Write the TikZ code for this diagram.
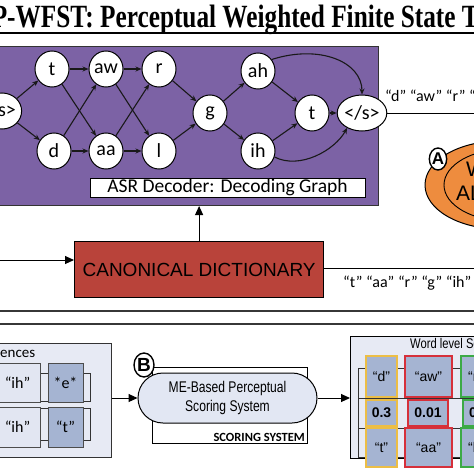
\documentclass[tikz,border=0pt]{standalone}
\usepackage{fontspec}
\usepackage{graphicx}
\setmainfont{Liberation Sans}
\newfontfamily\calfont{Carlito}
\newfontfamily\serfont{Liberation Serif}
\usetikzlibrary{arrows.meta,shapes.geometric,shapes.misc}
\definecolor{purp}{RGB}{124,98,165}
\definecolor{dictred}{RGB}{185,67,58}
\definecolor{orng}{RGB}{238,140,62}
\definecolor{panelA}{RGB}{231,234,244}
\definecolor{cellL}{RGB}{226,230,242}
\definecolor{cellD}{RGB}{165,180,210}
\definecolor{pillc}{RGB}{226,231,243}
\definecolor{ylw}{RGB}{236,190,70}
\definecolor{rd}{RGB}{214,48,58}
\definecolor{grn}{RGB}{60,170,70}
\definecolor{sepc}{RGB}{55,55,55}
\newcommand{\fsz}[1]{\fontsize{#1}{#1}\selectfont}
\begin{document}
\begin{tikzpicture}[x=1pt,y=-1pt,
  st/.style={ellipse, draw=black, line width=1pt, fill=white, minimum width=34pt, minimum height=36pt, inner sep=0pt, font=\calfont\fsz{20}},
  edge/.style={line width=1.1pt, draw=black!90, -{Stealth[length=6pt,width=5pt]}},
  bigarrow/.style={line width=1pt, -{Triangle[length=9pt,width=8pt]}},
  plainline/.style={line width=1pt},
  track/.style={draw=black!80, line width=.8pt},
  lcell/.style={draw=black!70, line width=.6pt, inner sep=0pt, fill=cellL, font=\calfont\fsz{16}},
  dcell/.style={draw=black!70, line width=.6pt, inner sep=0pt, fill=cellD, font=\calfont\fsz{16}},
  wtxt/.style={font=\fsz{14}},
  numtxt/.style={font=\bfseries\fsz{14}},
  badge/.style={ellipse, draw=black, line width=1.4pt, fill=white, inner sep=0pt, font=\bfseries\fsz{17}},
  quotes/.style={font=\calfont\fsz{16}, inner sep=0pt}
]
\useasboundingbox (0,0) rectangle (474,474);
\clip (0,0) rectangle (474,474);
\fill[white] (0,0) rectangle (474,474);

% title
\node[anchor=base west, inner sep=0pt, font=\serfont\bfseries\fsz{32.4}] (title) at (-8.4,27) {\scalebox{0.78}[1]{P-WFST: Perceptual Weighted Finite State T}};
\coordinate (ulA) at (-5,33);
\coordinate (ulB) at (480,33);
\draw[line width=1.5pt] (ulA) -- (ulB);

% decoder box
\node[draw=black!80, line width=1pt, fill=purp, minimum width=383pt, minimum height=159pt, anchor=north west, inner sep=0pt] (dec) at (-5,46) {};

\node[st] (s0) at (2,111) {<s>};
\node[st] (t1) at (52,69) {t};
\node[st] (d1) at (54,151) {d};
\node[st] (aw) at (106,69) {aw};
\node[st] (aa) at (106,151) {aa};
\node[st] (r1) at (159,69) {r};
\node[st] (l1) at (159,151) {l};
\node[st] (g1) at (210,113) {g};
\node[st] (ah) at (258,71) {ah};
\node[st] (ih) at (258,151) {ih};
\node[st] (t2) at (312,113) {t};
\node[st] (se) at (362,113) {</s>};

\draw[edge] (s0) -- (t1);
\draw[edge] (s0) -- (d1);
\draw[edge] (t1) -- (aw);
\draw[edge] (t1) -- (aa);
\draw[edge] (d1) -- (aw);
\draw[edge] (d1) -- (aa);
\draw[edge] (aw) -- (r1);
\draw[edge] (aw) -- (l1);
\draw[edge] (aa) -- (r1);
\draw[edge] (aa) -- (l1);
\draw[edge] (r1) -- (g1);
\draw[edge] (l1) -- (g1);
\draw[edge] (g1) -- (ah);
\draw[edge] (g1) -- (ih);
\draw[edge] (ah) -- (t2);
\draw[edge] (ih) -- (t2);
\draw[edge] (t2) -- (se);
\draw[edge] (ah.40) .. controls (320,44) and (362,62) .. (se.north);
\draw[edge] (ih.-20) .. controls (300,170) and (335,150) .. (se.225);

\node[draw=black, line width=.9pt, fill=white, minimum width=275pt, minimum height=19pt, inner sep=0pt, font=\calfont\fsz{19.5}] (asr) at (227.5,187.5) {ASR Decoder: Decoding Graph};

% output of decoder
\coordinate (seout) at (480,113);
\draw[plainline] (se.east) -- (seout);
\node[quotes, anchor=base west] (seq1) at (385,101) {“d” “aw” “r” “g”};

% dictionary
\node[draw=black, line width=1.2pt, fill=dictred, minimum width=249pt, minimum height=56pt, anchor=north west, inner sep=0pt, font=\fsz{19}] (dict) at (74,241) {CANONICAL DICTIONARY};
\draw[bigarrow] (dict.north) -- (dict.north |- dec.south);
\coordinate (inl) at (-5,260);
\draw[bigarrow] (inl) -- (inl -| dict.west);
\coordinate (outr) at (480,268);
\draw[plainline] (dict.east |- outr) -- (outr);
\node[quotes, anchor=base west] (seq2) at (343,287) {“t” “aa” “r” “g” “ih” “};

% orange alignment
\node[ellipse, draw=black, line width=1pt, fill=orng, minimum width=150pt, minimum height=88pt] (algo) at (500,185) {};
\node[ellipse, draw=black, line width=.9pt, minimum width=124pt, minimum height=72pt] (algoin) at (506,185) {};
\node[badge, minimum width=17pt, minimum height=22pt] (bA) at (438,159) {A};
\node[anchor=base west, inner sep=0pt, font=\fsz{21}] (w1) at (466,176) {W};
\node[anchor=base west, inner sep=0pt, font=\fsz{21}] (w2) at (456,200) {AL};

% separator
\coordinate (sp1a) at (-5,311); \coordinate (sp1b) at (480,311);
\coordinate (sp2a) at (-5,324); \coordinate (sp2b) at (480,324);
\draw[line width=1.6pt, sepc] (sp1a) -- (sp1b);
\draw[line width=1.6pt, sepc] (sp2a) -- (sp2b);

% sequences panel
\node[draw=black!80, line width=.8pt, fill=panelA, minimum width=116pt, minimum height=114pt, anchor=north west, inner sep=0pt] (seqbox) at (-5,343) {};
\node[anchor=base west, inner sep=0pt, font=\calfont\fsz{15}] (seqlbl) at (0,357) {ences};
\draw[track] (-5,373) rectangle (90,401);
\draw[track] (-5,408) rectangle (90,440);
\node[lcell, minimum width=45pt, minimum height=39pt] (ih1) at (17.5,382.5) {“ih”};
\node[dcell, minimum width=35pt, minimum height=39pt] (e1) at (65.5,382.5) {*e*};
\node[lcell, minimum width=45pt, minimum height=40pt] (ih2) at (17.5,427) {“ih”};
\node[dcell, minimum width=35pt, minimum height=40pt] (t3) at (65.5,427) {“t”};

% scoring system
\node[draw=black, line width=1pt, fill=white, minimum width=155pt, minimum height=76pt, anchor=north west, inner sep=0pt] (scoring) at (152,367) {};
\node[anchor=base east, inner sep=0pt, font=\calfont\bfseries\fsz{12.5}] (sclbl) at (305,441) {SCORING SYSTEM};
\node[rounded rectangle, draw=black, line width=1pt, fill=pillc, minimum width=179pt, minimum height=50pt, inner sep=0pt] (me) at (227.5,398) {\scalebox{0.78}[1]{\fontsize{15.5}{19}\selectfont\begin{tabular}{@{}c@{}}ME-Based Perceptual\\Scoring System\end{tabular}}};
\node[badge, minimum width=20pt, minimum height=24pt, font=\bfseries\fsz{19}] (bB) at (144,365) {B};
\draw[bigarrow] (seqbox.east |- me.west) -- (me.west);

% word level scores
\node[draw=black, line width=1pt, fill=panelA, minimum width=130pt, minimum height=122pt, anchor=north west, inner sep=0pt] (wordbox) at (350,336) {};
\draw[bigarrow] (me.east) -- (me.east -| wordbox.west);
\node[anchor=base west, inner sep=0pt, font=\fsz{14}] (wlbl) at (410,348) {\scalebox{0.8}[1]{Word level Scores}};
\draw[track] (358,368) rectangle (480,398);
\draw[track] (358,398) rectangle (480,428);
\draw[track] (358,428) rectangle (480,457);

\node[draw=ylw, line width=1.5pt, fill=cellD, minimum width=31pt, minimum height=41pt, inner sep=0pt, wtxt] (yd) at (381.5,376.5) {“d”};
\node[draw=ylw, line width=1.5pt, fill=cellD, minimum width=31pt, minimum height=26pt, inner sep=0pt, numtxt] (y03) at (381.5,413) {0.3};
\node[draw=ylw, line width=1.5pt, fill=cellD, minimum width=31pt, minimum height=39pt, inner sep=0pt, wtxt] (yt) at (381.5,447.5) {“t”};
\node[draw=rd, line width=1.5pt, fill=cellD, minimum width=47pt, minimum height=41pt, inner sep=0pt, wtxt] (raw) at (428.5,376.5) {“aw”};
\node[draw=rd, line width=1.5pt, fill=cellD, minimum width=40pt, minimum height=26pt, inner sep=0pt, numtxt] (r001) at (428,413) {0.01};
\node[draw=rd, line width=1.5pt, fill=cellD, minimum width=47pt, minimum height=39pt, inner sep=0pt, wtxt] (raa) at (428.5,447.5) {“aa”};
\node[draw=grn, line width=1.5pt, fill=cellD, minimum width=39pt, minimum height=41pt, inner sep=0pt] (g1c) at (480.5,376.5) {};
\node[draw=grn, line width=1.5pt, fill=cellD, minimum width=37pt, minimum height=26pt, inner sep=0pt] (g2c) at (481.5,413) {};
\node[draw=grn, line width=1.5pt, fill=cellD, minimum width=39pt, minimum height=39pt, inner sep=0pt] (g3c) at (480.5,447.5) {};
\node[anchor=west, inner sep=0pt, wtxt] (g1t) at (468,376.5) {“r”};
\node[anchor=west, inner sep=0pt, numtxt] (g2t) at (469,413) {0.2};
\node[anchor=west, inner sep=0pt, wtxt] (g3t) at (468,447.5) {“l”};
\end{tikzpicture}
\end{document}
